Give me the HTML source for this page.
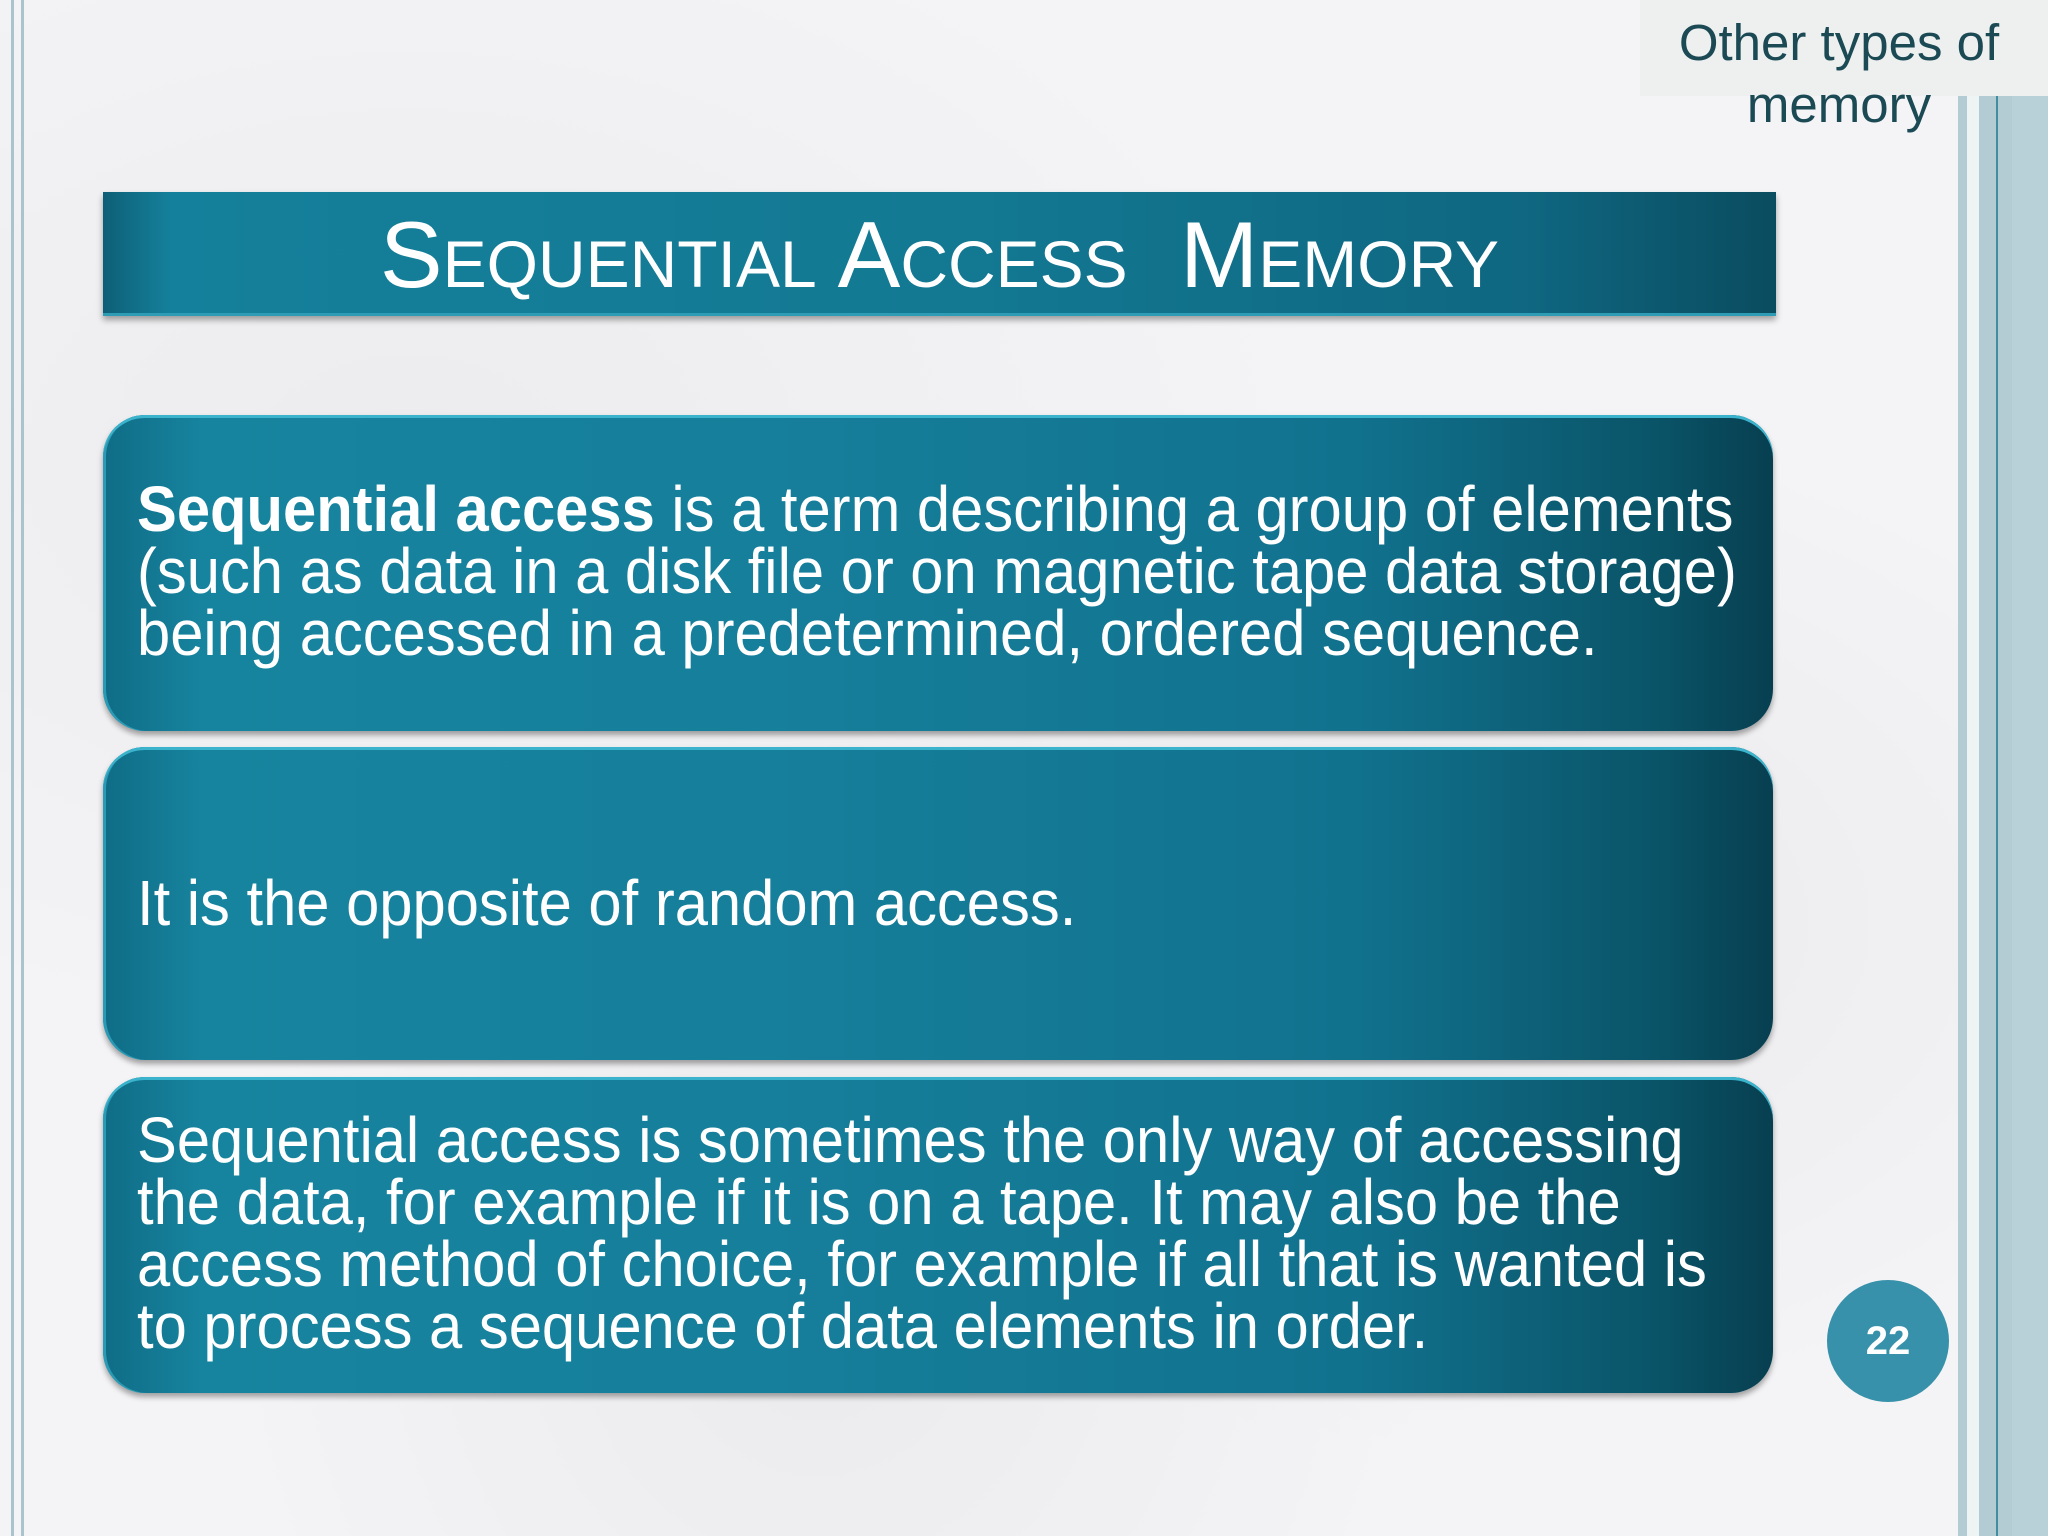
<!DOCTYPE html>
<html><head><meta charset="utf-8"><style>
html,body{margin:0;padding:0;width:2048px;height:1536px;overflow:hidden}
body{position:relative;background:#f3f3f4;font-family:"Liberation Sans",Arial,sans-serif}
.bg{position:absolute;inset:0;background:radial-gradient(ellipse at 20% 30%,#ececee 0,transparent 40%),radial-gradient(ellipse at 70% 60%,#eaeaec 0,transparent 40%),radial-gradient(ellipse at 40% 85%,#ebebed 0,transparent 35%),#f4f4f6}
.l{position:absolute;top:0;height:1536px}
.r{position:absolute;top:96px;height:1440px}
.box{position:absolute;left:103px;width:1670px;border-radius:42px;background:linear-gradient(90deg,#0f6c86 0%,#17849f 6%,#167f9b 40%,#11728e 75%,#0a5468 93%,#073f50 100%);box-shadow:0 4px 6px rgba(0,0,0,.35), inset 0 3px 0 #3bb3cc, inset 3px 0 0 #2a9ab5;}
.t{position:absolute;left:137px;color:#fff;font-size:64px;line-height:62px;white-space:nowrap;transform:scaleX(.933);transform-origin:left top}
</style></head><body>
<div class="bg"></div>
<div class="l" style="left:11px;width:3px;background:#a9c4cc"></div>
<div class="l" style="left:21px;width:3px;background:#a9c4cc"></div>
<div style="position:absolute;left:1640px;top:0;width:408px;height:96px;background:#eef0f0"></div>
<div class="r" style="left:1958px;width:9px;background:#b3cbd3"></div>
<div class="r" style="left:1967px;width:12px;background:#eef3f4"></div>
<div class="r" style="left:1979px;width:17px;background:#b3cbd3"></div>
<div class="r" style="left:1996px;width:2px;background:#3f8ea3"></div>
<div class="r" style="left:1998px;width:14px;background:#b3cbd3"></div>
<div class="r" style="left:2012px;width:36px;background:#b8d0d7"></div>
<div style="position:absolute;right:19px;top:12px;text-align:center;color:#1b4a55;font-size:51px;line-height:62px;width:380px">Other types of<br>memory</div>
<div style="position:absolute;left:103px;top:192px;width:1673px;height:124px;background:linear-gradient(90deg,#0d5f76 0%,#15809b 4%,#137993 50%,#0f6781 85%,#0a4c5f 100%);box-shadow:0 4px 6px rgba(0,0,0,.35), inset 0 -3px 0 #2f9cb5"></div>
<div style="position:absolute;left:103px;top:205px;width:1673px;text-align:center;color:#fff;font-size:94px;line-height:100px;font-variant:small-caps;white-space:nowrap">Sequential Access&nbsp; Memory</div>
<div class="box" style="top:415px;height:316px"></div>
<div class="t" style="top:478px"><b>Sequential access</b> is a term describing a group of elements<br>(such as data in a disk file or on magnetic tape data storage)<br>being accessed in a predetermined, ordered sequence.</div>
<div class="box" style="top:747px;height:313px"></div>
<div class="t" style="top:872px">It is the opposite of random access.</div>
<div class="box" style="top:1077px;height:316px"></div>
<div class="t" style="top:1109px">Sequential access is sometimes the only way of accessing<br>the data, for example if it is on a tape. It may also be the<br>access method of choice, for example if all that is wanted is<br>to process a sequence of data elements in order.</div>
<div style="position:absolute;left:1827px;top:1280px;width:122px;height:122px;border-radius:50%;background:#3891aa;color:#fff;font-weight:bold;font-size:40px;line-height:122px;text-align:center">22</div>
</body></html>
